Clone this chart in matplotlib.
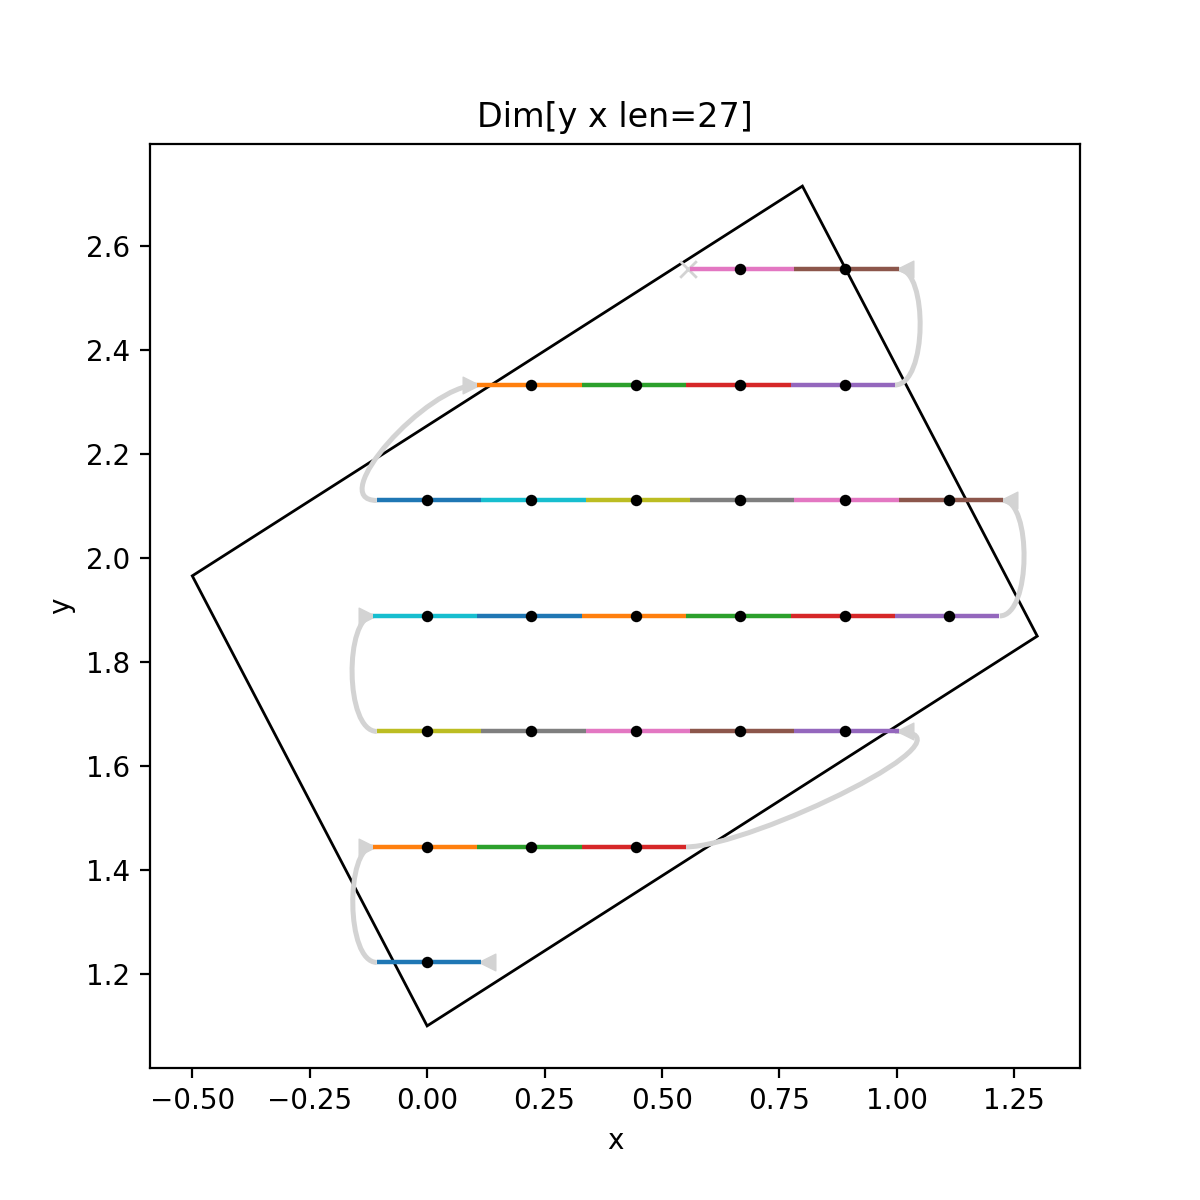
import numpy as np
import matplotlib
matplotlib.use('Agg')
import matplotlib.pyplot as plt
from matplotlib.patches import Polygon, PathPatch
from matplotlib.path import Path

# --- Grid cell centres, in scan order ---
cell_x = [0.0,
          0.0, 0.2222, 0.4444,
          0.8889, 0.6667, 0.4444, 0.2222, 0.0,
          0.0, 0.2222, 0.4444, 0.6667, 0.8889, 1.1111,
          1.1111, 0.8889, 0.6667, 0.4444, 0.2222, 0.0,
          0.2222, 0.4444, 0.6667, 0.8889,
          0.8889, 0.6667]
cell_y = [1.2222,
          1.4444, 1.4444, 1.4444,
          1.6667, 1.6667, 1.6667, 1.6667, 1.6667,
          1.8889, 1.8889, 1.8889, 1.8889, 1.8889, 1.8889,
          2.1111, 2.1111, 2.1111, 2.1111, 2.1111, 2.1111,
          2.3333, 2.3333, 2.3333, 2.3333,
          2.5556, 2.5556]
# scan direction per cell: 1 to the right, -1 to the left
cell_dir = [-1, 1, 1, 1, -1, -1, -1, -1, -1, 1, 1, 1, 1, 1, 1,
            -1, -1, -1, -1, -1, -1, 1, 1, 1, 1, -1, -1]

# --- Outline of the rotated box ---
box_x = [0.0, 1.299, 0.799, -0.5]
box_y = [1.1, 1.85, 2.716, 1.966]

# --- Row turn curves (cubic bezier control points) ---
turn_x = [[-0.107, -0.174, -0.174, -0.115],
          [0.551, 0.69, 1.2, 0.996],
          [-0.107, -0.176, -0.176, -0.115],
          [1.219, 1.287, 1.287, 1.226],
          [-0.107, -0.22, 0.0, 0.106],
          [0.996, 1.066, 1.066, 1.005]]
turn_y = [[1.2222, 1.2222, 1.4444, 1.4444],
          [1.4444, 1.4444, 1.6667, 1.6667],
          [1.6667, 1.6667, 1.8889, 1.8889],
          [1.8889, 1.8889, 2.1111, 2.1111],
          [2.1111, 2.1111, 2.3333, 2.3333],
          [2.3333, 2.3333, 2.5556, 2.5556]]

# --- Row start arrows and scan end ---
left_arrow_x = [0.127, 1.017, 1.239, 1.017]
left_arrow_y = [1.2222, 1.6667, 2.1111, 2.5556]
right_arrow_x = [-0.127, -0.127, 0.094]
right_arrow_y = [1.4444, 1.8889, 2.3333]
end_x = [0.556]
end_y = [2.5556]

fig, ax = plt.subplots(figsize=(6, 6), dpi=200)

# --- Box first, everything else sits on top of it ---
ax.add_patch(Polygon(np.column_stack([box_x, box_y]), closed=True, fc='none', ec='k', lw=1))

# --- Turns and arrows below the coloured segments ---
codes = [Path.MOVETO, Path.CURVE4, Path.CURVE4, Path.CURVE4]
for tx, ty in zip(turn_x, turn_y):
    ax.add_patch(PathPatch(Path(np.column_stack([tx, ty]), codes), fc='none', ec='lightgray', lw=1.8))
ax.scatter(left_arrow_x, left_arrow_y, marker='<', color='lightgray', s=36, linewidths=0.5)
ax.scatter(right_arrow_x, right_arrow_y, marker='>', color='lightgray', s=36, linewidths=0.5)
ax.scatter(end_x, end_y, marker='x', color='lightgray', s=36, linewidths=1)

# --- One segment per cell, colours cycling ---
for i, (x, y, d) in enumerate(zip(cell_x, cell_y, cell_dir)):
    ax.plot([x - 0.115 * d, x + 0.107 * d], [y, y], color='C%d' % (i % 10), lw=1.6, solid_capstyle='butt')
ax.scatter(cell_x, cell_y, color='k', s=17, linewidths=0, zorder=3)

ax.set_xlim(-0.59, 1.39)
ax.set_ylim(1.019, 2.797)
ax.set_xticks(np.arange(-0.5, 1.26, 0.25))
ax.set_xlabel('x')
ax.set_ylabel('y')
ax.set_title('Dim[y x len=27]')

fig.savefig('out.png', dpi=200)
